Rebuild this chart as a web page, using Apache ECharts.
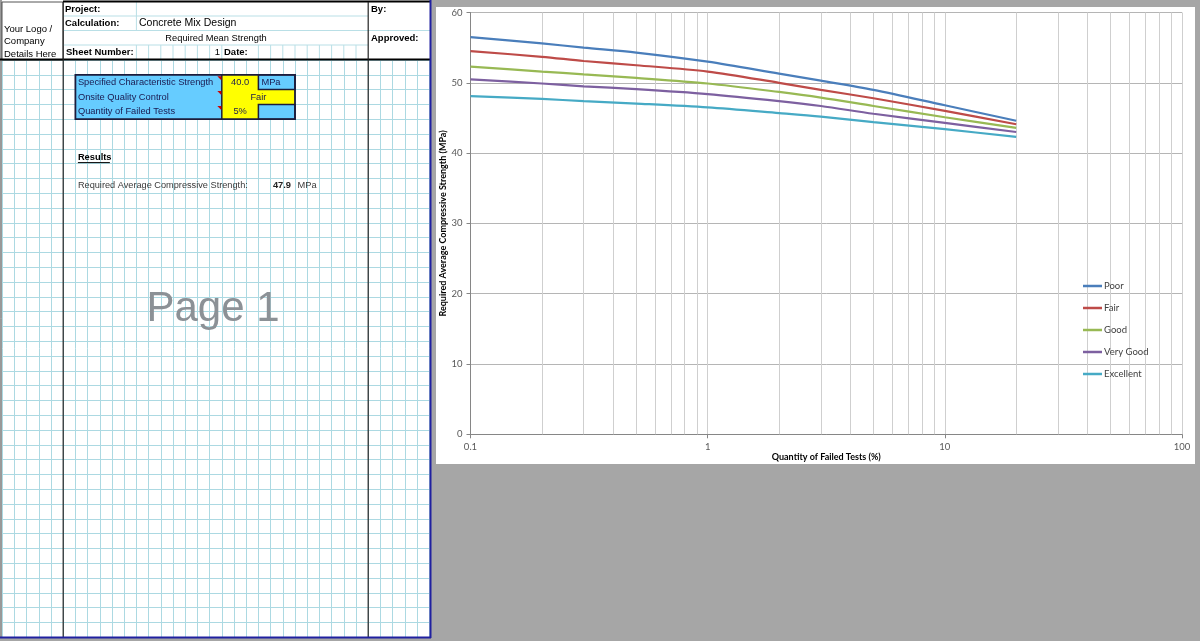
<!DOCTYPE html>
<html><head><meta charset="utf-8">
<script src="https://cdn.jsdelivr.net/npm/echarts@6/dist/echarts.min.js"></script>
<style>html,body{margin:0;padding:0;background:#a6a6a6}#c{width:1200px;height:641px}</style>
</head><body><div id="c"></div>
<script>
// ---------- data ----------
const failedPct = [0.1, 0.2, 0.3, 0.5, 1, 2, 3, 5, 10, 20];
const poor      = [56.5, 55.6, 55.0, 54.3, 53.0, 51.3, 50.3, 49.0, 46.8, 44.6];
const fair      = [54.5, 53.7, 53.1, 52.5, 51.6, 50.0, 49.0, 47.8, 46.0, 44.1];
const good      = [52.3, 51.6, 51.2, 50.7, 49.9, 48.7, 47.9, 46.7, 45.1, 43.6];
const veryGood  = [50.5, 49.9, 49.5, 49.1, 48.4, 47.4, 46.7, 45.6, 44.3, 43.0];
const excellent = [48.1, 47.7, 47.4, 47.05, 46.5, 45.7, 45.2, 44.4, 43.4, 42.3];
const seriesNames = ['Poor', 'Fair', 'Good', 'Very Good', 'Excellent'];
const seriesValues = [poor, fair, good, veryGood, excellent];
const seriesColors = ['#4a7ebb', '#be4b48', '#98b954', '#7d60a0', '#46aac5'];
const xMinorTicks = [0.2,0.3,0.4,0.5,0.6,0.7,0.8,0.9,2,3,4,5,6,7,8,9,20,30,40,50,60,70,80,90];

// sheet content
const inputLabels = ['Specified Characteristic Strength', 'Onsite Quality Control', 'Quantity of Failed Tests'];
const inputValues = ['40.0', 'Fair', '5%'];
const inputUnits = ['MPa', '', ''];
const resultLabel = 'Required Average Compressive Strength:';
const resultValue = '47.9';
const resultUnit = 'MPa';

// ---------- layout helpers (sheet decoration) ----------
const CW = 12.2, X0 = 2.2, RH = 14.8, Y0 = 60;
const cx = c => X0 + CW * c;
const ry = r => Y0 + RH * r;
const SF = '"Liberation Sans", Arial, sans-serif';
const g = [];
const rect = (x, y, w, h, fill, stroke, lw, z) => g.push({type:'rect', silent:true, z: z == null ? 5 : z,
  shape:{x, y, width:w, height:h}, style:{fill: fill || 'none', stroke: stroke || 'none', lineWidth: lw || 0}});
const line = (x1, y1, x2, y2, stroke, lw, z) => g.push({type:'line', silent:true, z: z == null ? 6 : z,
  shape:{x1, y1, x2, y2}, style:{stroke, lineWidth: lw}});
const text = (t, x, y, font, fill, align) => g.push({type:'text', silent:true, z: 8,
  style:{text:t, x, y, font, fill: fill || '#000', align: align || 'left', verticalAlign:'middle'}});

// backgrounds
rect(0, 0, 431, 638, '#ffffff', null, 0, -100);
rect(436, 7, 759, 457, '#ffffff', null, 0, -100);

// header light lines
const LG = '#b9dfe6';
line(63, 16, 368, 16, LG, 1);
line(63, 30.5, 430, 30.5, LG, 1);
line(63, 45, 368, 45, LG, 1);
line(cx(11), 2, cx(11), 30, LG, 1);
for (let c = 11; c <= 29; c++) { if (c !== 19 && c !== 20) line(cx(c), 45, cx(c), 59, LG, 1); }

// frame lines
line(63, 1.5, 430, 1.5, '#000', 2);
line(1, 0, 1, 637, '#333', 1);
rect(2, 2, 61, 58, '#ffffff', '#555', 1, 4);
line(0, 59.5, 430, 59.5, '#000', 2);
line(cx(5), 2, cx(5), 637, '#222', 1.2);
line(cx(30), 2, cx(30), 637, '#222', 1.2);
line(430.5, 0, 430.5, 638, '#2020a0', 2, 9);
line(0, 637.5, 431, 637.5, '#2020a0', 2, 9);

// header texts
const B = 'bold 9.5px ' + SF, N = '9.5px ' + SF;
text('Project:', 65, 9.5, B);
text('Calculation:', 65, 23, B);
text('Concrete Mix Design', 139, 23, '10.5px ' + SF);
text('Required Mean Strength', 216, 38, '9.3px ' + SF, '#000', 'center');
text('Sheet Number:', 66, 52.5, B);
text('1', 220, 52.5, N, '#000', 'right');
text('Date:', 224, 52.5, B);
text('By:', 371, 9.5, B);
text('Approved:', 371, 38, B);
text('Your Logo /', 4, 29, N);
text('Company', 4, 41.5, N);
text('Details Here', 4, 54, N);

// input table
const BLUE = '#66ccff', YEL = '#ffff00', BD = '#1c1c3c', TC = '#1a1a50';
rect(cx(6), ry(1), cx(18) - cx(6), ry(4) - ry(1), BLUE, null, 0);
rect(cx(18), ry(1), cx(24) - cx(18), ry(4) - ry(1), YEL, null, 0);
rect(cx(21), ry(1), cx(24) - cx(21), ry(2) - ry(1), BLUE, BD, 1.5);
rect(cx(21), ry(3), cx(24) - cx(21), ry(4) - ry(3), BLUE, BD, 1.5);
rect(cx(6), ry(1), cx(24) - cx(6), ry(4) - ry(1), null, BD, 1.8, 7);
line(cx(18), ry(1), cx(18), ry(4), BD, 1.5, 7);
for (let i = 0; i < 3; i++) {
  const yc = (ry(1 + i) + ry(2 + i)) / 2;
  text(inputLabels[i], cx(6) + 2.5, yc, '9.3px ' + SF, TC);
  if (i === 1) text(inputValues[i], (cx(18) + cx(24)) / 2, yc, '9.3px ' + SF, TC, 'center');
  else text(inputValues[i], (cx(18) + cx(21)) / 2, yc, '9.3px ' + SF, TC, 'center');
  if (inputUnits[i]) text(inputUnits[i], cx(21) + 3, yc, '9.3px ' + SF, TC);
  g.push({type:'polygon', silent:true, z:9, shape:{points:[[cx(18)-4.5, ry(1+i)+1.5],[cx(18)-0.5, ry(1+i)+1.5],[cx(18)-0.5, ry(1+i)+5.5]]}, style:{fill:'#cc0000'}});
}

// results
text('Results', cx(6) + 2.5, (ry(6) + ry(7)) / 2 + 1, 'bold 9.3px ' + SF);
line(cx(6) + 2.5, ry(7) - 1, cx(6) + 34.5, ry(7) - 1, '#000', 1, 8);
text(resultLabel, cx(6) + 2.5, (ry(8) + ry(9)) / 2, '9.2px ' + SF, '#3a3a3a');
text(resultValue, cx(24) - 4, (ry(8) + ry(9)) / 2, 'bold 9.3px ' + SF, '#222', 'right');
text(resultUnit, cx(24) + 2.5, (ry(8) + ry(9)) / 2, '9.3px ' + SF, '#3a3a3a');

// watermark
text('Page 1', 213, 309, '42px ' + SF, '#8c9196', 'center');

// ---------- chart ----------
const CF = 'Lato, "Open Sans", sans-serif';
const fmt = v => String(+(+v).toPrecision(6));
const lineSeries = seriesNames.map((name, i) => ({
  name, type:'line', xAxisIndex:0, yAxisIndex:0,
  data: failedPct.map((p, j) => [p, seriesValues[i][j]]),
  smooth: 0.3, symbol:'none', showSymbol:false,
  lineStyle:{width:2.2, color: seriesColors[i]}, itemStyle:{color: seriesColors[i]},
  z: 3
}));

const chart = echarts.init(document.getElementById('c'), null, {renderer:'canvas'});
chart.setOption({
  animation:false,
  backgroundColor:'#a6a6a6',
  grid:[
    {left:470.5, top:12.5, width:711.5, height:421.8, show:false},
    {left:X0, top:Y0, width:CW * 35, height:RH * 39, show:false}
  ],
  xAxis:[
    {gridIndex:0, type:'log', logBase:10, min:0.1, max:100, splitNumber:3,
     axisLine:{show:true, onZero:false, lineStyle:{color:'#868686'}},
     axisTick:{show:true, length:4, lineStyle:{color:'#868686'}},
     axisLabel:{fontFamily:CF, fontSize:9.5, color:'#595959', margin:8, formatter: fmt},
     splitLine:{show:true, lineStyle:{color:'#cfcfcf', width:1}},
     name:'Quantity of Failed Tests (%)', nameLocation:'middle', nameGap:18.5, nameMoveOverlap:false,
     nameTextStyle:{fontFamily:CF, fontWeight:'bold', fontSize:9, color:'#000'}},
    {gridIndex:1, type:'value', min:0, max:35, interval:1,
     axisLine:{show:false}, axisTick:{show:false}, axisLabel:{show:false},
     splitLine:{show:true, lineStyle:{color:'#acd9e2', width:1}}}
  ],
  yAxis:[
    {gridIndex:0, type:'value', min:0, max:60, interval:10,
     axisLine:{show:true, lineStyle:{color:'#868686'}},
     axisTick:{show:true, length:4, lineStyle:{color:'#868686'}},
     axisLabel:{fontFamily:CF, fontSize:9.5, color:'#595959', margin:8},
     splitLine:{show:true, lineStyle:{color:'#b5b5b5', width:1}},
     name:'Required Average Compressive Strength (MPa)', nameLocation:'middle', nameGap:23, nameMoveOverlap:false,
     nameTextStyle:{fontFamily:CF, fontWeight:'bold', fontSize:9, color:'#000'}},
    {gridIndex:1, type:'value', min:0, max:39, interval:1, inverse:true,
     axisLine:{show:false}, axisTick:{show:false}, axisLabel:{show:false},
     splitLine:{show:true, lineStyle:{color:'#acd9e2', width:1}}}
  ],
  legend:{
    data: seriesNames.map(n => ({name:n, icon:'rect'})), orient:'vertical', left:1083, top:281, padding:0,
    itemWidth:19, itemHeight:2.5, itemGap:12,
    textStyle:{fontFamily:CF, fontSize:9.5, color:'#404040', padding:[0,0,0,-3]}
  },
  series:[
    {type:'line', name:'minorGrid', xAxisIndex:0, yAxisIndex:0, data:[], silent:true,
     markLine:{silent:true, z:1, animation:false, symbol:['none','none'], label:{show:false},
       emphasis:{disabled:true},
       lineStyle:{color:'#cfcfcf', width:1, type:'solid'},
       data: xMinorTicks.map(v => ({xAxis: v}))}},
    ...lineSeries
  ],
  graphic:{elements:g}
});
</script></body></html>
